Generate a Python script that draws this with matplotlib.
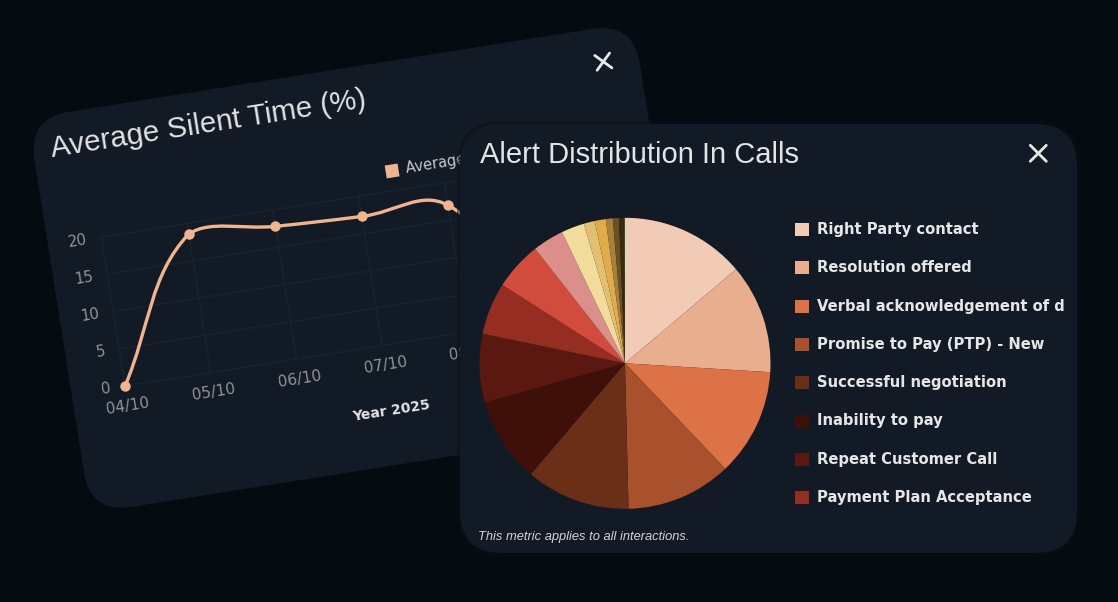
import numpy as np
import matplotlib
matplotlib.use("Agg")
import matplotlib.pyplot as plt
from matplotlib.patches import FancyBboxPatch, Rectangle, PathPatch
from matplotlib.path import Path
from matplotlib.transforms import Affine2D, Bbox, TransformedBbox

# ---- data ----
silent_dates = ["04/10", "05/10", "06/10", "07/10", "08/10", "09/10", "10/10"]
silent_pct = [0, 18.6, 17.8, 17.3, 17.0, 0, 0]
silent_yticks = [0, 5, 10, 15, 20]

alert_labels = ["Right Party contact", "Resolution offered",
                "Verbal acknowledgement of debt", "Promise to Pay (PTP) - New",
                "Successful negotiation", "Inability to pay",
                "Repeat Customer Call", "Payment Plan Acceptance"]
alert_counts = [124, 109, 107, 105, 104, 85, 68, 52, 48, 31, 23, 11, 11, 7, 6, 5, 1]
alert_colors = ["#f1cbb5", "#e9ae8e", "#de7247", "#a9512d", "#6b2f18", "#3f100a",
                "#5b1811", "#962d22", "#d24c3e", "#dc8f8a", "#f1dc9c", "#e3bf72",
                "#e1aa4b", "#a8803a", "#6b5122", "#3a2a12", "#2f5c2a"]

BG = "#060b12"
CARD = "#121a25"
GRID = "#19222d"
PEACH = "#f0b48e"
W, H = 1118, 602

fig = plt.figure(figsize=(W / 100, H / 100), dpi=100, facecolor=BG)
ax = fig.add_axes([0, 0, 1, 1])
ax.set_xlim(0, W)
ax.set_ylim(H, 0)
ax.axis("off")

# ---- back card (tilted) ----
tilt = 9.0
card_tf = Affine2D().rotate_deg(-tilt).translate(27.9, 118.3) + ax.transData
ax.add_patch(FancyBboxPatch((0, 0), 613, 400, boxstyle="round,pad=0,rounding_size=42",
                            fc=CARD, ec="none", transform=card_tf, zorder=1))

x0, dx, y0, sy = 54, 86.8, 279.8, 7.55
data_local = Affine2D().scale(dx, -sy).translate(x0, y0)
data_tf = data_local + card_tf
xs = np.arange(len(silent_dates))
xmax = xs[-1]

for v in silent_yticks:
    ax.plot([0, xmax], [v, v], color=GRID, lw=1, transform=data_tf, zorder=2)
for i in xs:
    ax.plot([i, i], [0, silent_yticks[-1]], color=GRID, lw=1, transform=data_tf, zorder=2)

# chart.js-like bezier
pts = data_local.transform(np.column_stack([xs, silent_pct]))
tension = 0.4
n = len(pts)
left, right = pts[0, 0], pts[-1, 0]
top, bottom = data_local.transform([[0, silent_yticks[-1]]])[0, 1], y0
cp_prev, cp_next = [], []
for i in range(n):
    p0, p1, p2 = pts[max(i - 1, 0)], pts[i], pts[min(i + 1, n - 1)]
    d01 = np.hypot(*(p1 - p0))
    d12 = np.hypot(*(p2 - p1))
    tot = d01 + d12
    fa = tension * (d01 / tot if tot else 0)
    fb = tension * (d12 / tot if tot else 0)
    a = p1 - fa * (p2 - p0)
    b = p1 + fb * (p2 - p0)
    for c in (a, b):
        c[0] = min(max(c[0], left), right)
        c[1] = min(max(c[1], top), bottom)
    cp_prev.append(a)
    cp_next.append(b)
verts = [pts[0]]
codes = [Path.MOVETO]
for i in range(n - 1):
    verts += [cp_next[i], cp_prev[i + 1], pts[i + 1]]
    codes += [Path.CURVE4] * 3
ax.add_patch(PathPatch(Path(verts, codes), fill=False, ec=PEACH, lw=2.4,
                       transform=card_tf, zorder=3, capstyle="round"))
ax.plot(xs, silent_pct, "o", ms=6.5, color=PEACH, transform=data_tf, zorder=4)

ytick_tf = Affine2D().scale(1, -sy).translate(0, y0) + card_tf
for v in silent_yticks:
    ax.text(40, v, str(v), transform=ytick_tf, ha="right", va="center", rotation=tilt,
            rotation_mode="anchor", fontsize=10.8, color="#8e949c", zorder=4)
xtick_tf = Affine2D().scale(dx, 1).translate(x0, 0) + card_tf
for i, lab in zip(xs, silent_dates):
    ax.text(i, 300, lab, transform=xtick_tf, ha="center", va="center", rotation=tilt,
            rotation_mode="anchor", fontsize=11, color="#8e949c", zorder=4)
ax.text(313.6, 345.7, "Year 2025", transform=card_tf, ha="center", va="center",
        rotation=tilt, rotation_mode="anchor", fontsize=10, fontweight="bold",
        color="#e4e4e4", zorder=4)
ax.text(17.5, 41.7, "Average Silent Time (%)", transform=card_tf, ha="left",
        va="baseline", rotation=tilt, rotation_mode="anchor", fontsize=21.3,
        family="Liberation Sans", color="#e2e2e2", zorder=4)
ax.add_patch(Rectangle((345, 102.5), 13, 13, fc=PEACH, ec="none", transform=card_tf, zorder=4))
ax.text(365.6, 108.5, "Average Silent Time", transform=card_tf, ha="left", va="center",
        rotation=tilt, rotation_mode="anchor", fontsize=10.5, color="#c8c8c8", zorder=4)
for s in (1, -1):
    ax.plot([569.7, 584.7], [34.1 - 7.5 * s, 34.1 + 7.5 * s], color="#e8e8e8", lw=2,
            transform=card_tf, zorder=4, solid_capstyle="round")

# ---- front card ----
ax.add_patch(FancyBboxPatch((457, 121), 623, 435, boxstyle="round,pad=0,rounding_size=45",
                            fc="#0a1018", ec="none", alpha=0.5, zorder=9))
ax.add_patch(FancyBboxPatch((460, 124), 617, 429, boxstyle="round,pad=0,rounding_size=42",
                            fc=CARD, ec="none", zorder=10))
ax.text(480, 162.7, "Alert Distribution In Calls", ha="left", va="baseline", fontsize=21,
        family="Liberation Sans", color="#e4e4e4", zorder=11)
for s in (1, -1):
    ax.plot([1030.3, 1046.3], [153.3 - 8 * s, 153.3 + 8 * s], color="#e8e8e8", lw=2,
            zorder=11, solid_capstyle="round")

legend_clip = TransformedBbox(Bbox([[460, 0], [1065, H]]), ax.transData)
for i, lab in enumerate(alert_labels):
    yc = 229.5 + i * 38.3
    ax.add_patch(Rectangle((795, yc - 6.5), 14, 13, fc=alert_colors[i], ec="none", zorder=11))
    t = ax.text(817, yc, lab, ha="left", va="center", fontsize=10.6, fontweight="bold",
                color="#e6e6e6", zorder=11, clip_on=True)
    t.set_clip_box(legend_clip)

ax.text(478, 540, "This metric applies to all interactions.", ha="left", va="baseline",
        fontsize=9.3, style="italic", family="Liberation Sans", color="#d4d4d4", zorder=11)

# pie
r_px = 145.5
half = 150
ax_pie = fig.add_axes([(625 - half) / W, (H - 363.3 - half) / H, 2 * half / W, 2 * half / H])
ax_pie.pie(alert_counts, colors=alert_colors, startangle=90, counterclock=False,
           radius=1, wedgeprops=dict(linewidth=0))
lim = half / r_px
ax_pie.set_xlim(-lim, lim)
ax_pie.set_ylim(-lim, lim)
ax_pie.set_aspect("equal")
ax_pie.axis("off")

fig.savefig("out.png", dpi=100, facecolor=BG)
